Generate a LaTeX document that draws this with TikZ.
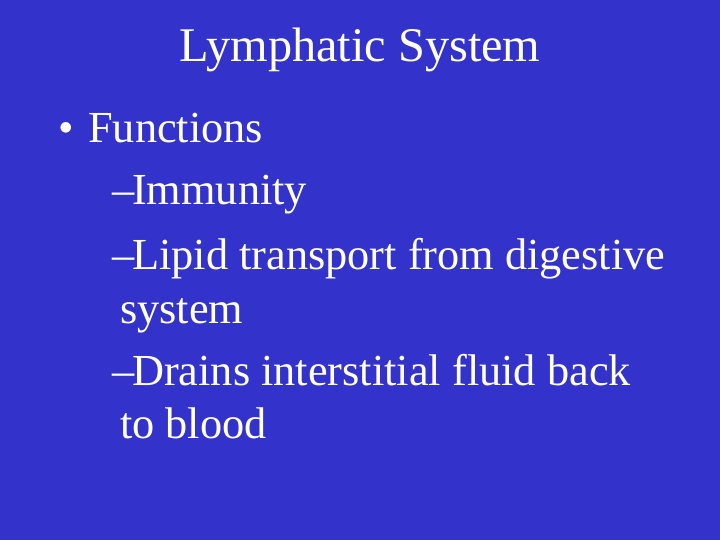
\documentclass[tikz,border=0pt]{standalone}
\usepackage{fontspec}
\setmainfont{Liberation Serif}
\definecolor{slidebg}{HTML}{3333CC}
\begin{document}
\begin{tikzpicture}[x=1bp,y=-1bp,
  txt/.style={text=white,font=\fontsize{44.5}{46}\selectfont,anchor=base west,inner sep=0pt}]
\fill[slidebg] (0,0) rectangle (720,540);
\useasboundingbox (0,0) rectangle (720,540);
\node[txt,anchor=base,font=\fontsize{48.5}{50}\selectfont] (title) at (360,62) {Lymphatic System};
\node[txt] (b1) at (58,143) {•};
\node[txt] (f) at (88,143) {Functions};
\node[txt] (d1) at (112,205) {–};
\node[txt] (i) at (132,205) {Immunity};
\node[txt] (d2) at (112,270) {–};
\node[txt] (l) at (132,270) {Lipid transport from digestive};
\node[txt] (l2) at (120,323) {system};
\node[txt] (d3) at (112,385) {–};
\node[txt] (dr) at (132,385) {Drains interstitial fluid back};
\node[txt] (dr2) at (120,438) {to blood};
\end{tikzpicture}
\end{document}
